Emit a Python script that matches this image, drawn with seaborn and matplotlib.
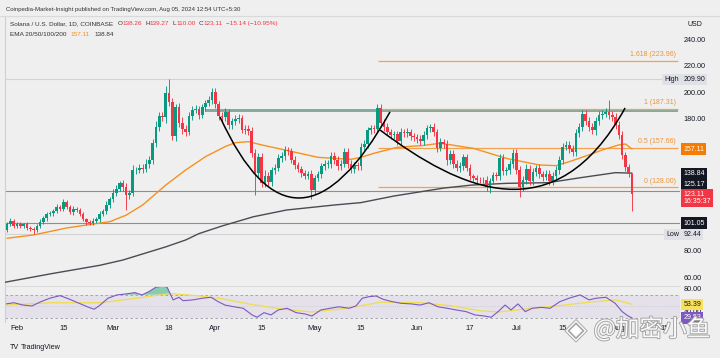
import numpy as np
import pandas as pd
import seaborn as sns
import matplotlib.pyplot as plt
import matplotlib.dates as mdates
import matplotlib.patheffects as pe
from matplotlib.path import Path
from matplotlib.patches import PathPatch
from matplotlib.lines import Line2D
from matplotlib.transforms import blended_transform_factory

# ---- data (SOL/USD daily, Coinbase) ----
first_day = "2024-01-29"
first_open = 96.0
closes = [
    100, 102.5, 99,                                              # Jan 29-31
    100, 98.5, 100, 97.5, 96.5, 96, 99, 102, 104.5, 108,         # Feb 1-10
    108.5, 110.5, 113, 112, 117, 113, 109.5, 112, 111, 108,      # Feb 11-20
    104, 101.5, 101, 102.5, 104, 108, 110, 115, 119,             # Feb 21-29
    124, 127, 131, 128, 122, 124, 141, 141.5, 143, 142,          # Mar 1-10
    146, 148.5, 161.5, 174, 182, 181, 199.5, 193, 167, 189,      # Mar 11-20
    177, 172, 170, 182, 187, 187.5, 183, 189, 192, 194,          # Mar 21-30
    200, 191, 182, 181, 185, 175, 178, 180, 180.5, 171.5,        # Mar 31-Apr 9
    172.5, 171, 154, 139, 151, 131, 137, 132, 141, 143,          # Apr 10-19
    150, 152, 156.5, 155.5, 149, 145, 142, 139, 137, 138,        # Apr 20-29
    126, 135, 138, 144, 146, 146, 152, 149, 144, 146,            # Apr 30-May 9
    155, 146, 142, 145, 144, 159, 161, 171.5, 173, 172,          # May 10-19
    188, 177, 174, 170, 168, 168.5, 163, 170, 169, 170,          # May 20-29
    167, 166, 165, 163, 168, 173, 173.5, 170, 158, 162.5,        # May 30-Jun 8
    161, 149, 153.5, 146, 143, 144, 151, 143, 136.5, 135,        # Jun 9-18
    134, 133.5, 134, 128.5, 133, 137.5, 136.5, 150, 140.5, 141,  # Jun 19-28
    146, 154, 141.5, 128, 133.5, 142, 133, 140, 142.5, 138,      # Jun 29-Jul 8
    136, 138, 133, 137, 141, 149, 159, 160, 157, 155,            # Jul 9-18
    169, 174, 184, 178, 174, 171.5, 178, 183, 184, 185.4,        # Jul 19-28
    183, 181.6, 175.3, 167.7, 152.6, 143.7, 138.26, 123.11,      # Jul 29-Aug 5
]
upper_wick = [
    1.5, 2.5, 1.5, 1.5, 1.5, 1.0, 1.5, 1.0, 1.5, 1.0,
    2.0, 1.5, 1.5, 2.0, 1.5, 2.5, 1.5, 2.0, 1.5, 1.5,
    2.0, 1.5, 1.5, 1.5, 1.0, 1.5, 2.0, 1.5, 2.0, 2.0,
    2.5, 2.0, 3.0, 2.5, 2.0, 2.5, 3.0, 2.0, 4.0, 2.0,
    3.0, 2.5, 3.5, 3.0, 3.0, 4.0, 3.0, 3.0, 5.0, 10.4,
    3.0, 2.5, 3.0, 4.0, 3.0, 3.0, 2.5, 3.0, 2.5, 2.5,
    2.5, 3.0, 3.0, 3.0, 2.5, 3.0, 3.0, 2.5, 2.5, 3.0,
    3.0, 2.5, 2.5, 2.5, 3.0, 3.0, 3.0, 3.0, 4.0, 3.0,
    2.5, 3.0, 3.0, 2.5, 3.0, 2.5, 2.5, 2.5, 2.5, 2.0,
    2.5, 2.5, 3.0, 2.5, 2.5, 2.5, 2.5, 3.0, 3.0, 2.5,
    2.5, 3.0, 3.0, 2.5, 2.5, 2.5, 2.5, 2.5, 3.0, 2.5,
    2.5, 2.5, 3.5, 3.0, 2.5, 2.5, 2.5, 2.5, 2.5, 3.0,
    2.5, 3.0, 2.5, 2.5, 2.5, 2.5, 3.0, 2.5, 2.5, 3.0,
    2.5, 3.0, 2.5, 3.0, 2.5, 2.5, 2.5, 3.0, 2.5, 2.0,
    2.5, 2.0, 2.5, 2.0, 2.0, 2.5, 2.5, 2.0, 2.5, 3.0,
    3.0, 2.5, 2.5, 3.0, 3.0, 2.5, 3.0, 3.5, 3.0, 2.5,
    2.5, 3.0, 2.5, 3.0, 3.0, 2.5, 3.0, 3.0, 2.5, 3.0,
    3.0, 3.0, 3.0, 3.0, 2.5, 3.0, 3.0, 2.5, 3.0, 3.0,
    2.5, 2.5, 8.6, 3.0, 2.5, 3.0, 3.0, 2.5, 2.0, 1.01,
]
lower_wick = [
    2.0, 1.5, 1.5, 1.5, 1.5, 1.5, 2.0, 1.5, 3.0, 1.5,
    1.5, 1.5, 2.0, 1.5, 2.0, 1.5, 2.0, 1.5, 1.5, 1.5,
    2.0, 1.5, 2.0, 1.5, 2.0, 1.5, 1.5, 1.5, 2.0, 2.0,
    2.0, 2.5, 2.0, 2.5, 2.0, 2.5, 11.0, 2.5, 2.5, 3.0,
    2.5, 3.0, 2.0, 3.0, 3.0, 3.0, 3.0, 3.0, 4.0, 3.0,
    3.0, 4.0, 3.0, 3.5, 3.0, 2.5, 3.0, 2.5, 3.0, 2.5,
    3.0, 2.5, 2.5, 3.0, 3.0, 2.5, 3.0, 3.0, 2.5, 3.0,
    3.0, 2.5, 3.0, 3.0, 3.0, 17.0, 3.0, 3.0, 3.0, 3.0,
    3.0, 3.0, 2.5, 2.5, 3.0, 3.0, 2.5, 3.0, 2.5, 3.0,
    2.5, 2.5, 7.0, 3.0, 2.5, 3.0, 2.5, 3.0, 3.0, 3.0,
    3.0, 3.0, 2.5, 3.0, 3.0, 3.0, 3.0, 3.0, 2.5, 3.0,
    3.0, 2.5, 3.0, 3.0, 3.0, 2.5, 3.0, 3.0, 2.5, 3.0,
    2.5, 3.0, 3.0, 2.5, 3.0, 3.0, 2.5, 3.0, 3.0, 3.0,
    3.0, 2.5, 3.0, 4.0, 3.0, 3.0, 2.5, 3.0, 3.0, 2.5,
    3.0, 2.5, 2.5, 2.5, 2.5, 3.0, 4.7, 2.5, 3.0, 3.0,
    3.0, 3.0, 3.0, 3.0, 3.0, 7.0, 3.0, 3.0, 3.0, 3.0,
    3.0, 3.0, 3.0, 2.5, 3.0, 3.0, 3.0, 3.0, 3.0, 2.5,
    3.0, 3.0, 3.0, 3.0, 3.0, 3.0, 3.0, 3.0, 3.5, 3.0,
    3.0, 3.0, 3.0, 3.0, 3.0, 3.0, 3.0, 3.0, 2.5, 13.11,
]

# EMA lines, sampled (days after Feb 1, price)
ema_fast_days = [-3, 5, 15, 25, 28, 33, 38, 45, 51, 57, 63, 66, 70, 74, 81, 91, 96, 101,
                 104, 108, 115, 123, 128, 138, 148, 158, 163, 167, 172, 177, 182, 184, 186]
ema_fast_vals = [89.5, 92, 97.3, 101, 102, 107, 114.7, 129.8, 141.2, 151.3, 159, 161.9, 162.7,
                 160.2, 156.4, 150.8, 150, 149.3, 150.8, 153.9, 158.4, 159.8, 161.5, 157.6,
                 150, 145, 144.5, 147.5, 151.8, 156.4, 160.2, 160.9, 157.11]
ema_slow_days = [-4, 10, 25, 32, 45, 51, 55, 62, 65, 71.5, 81.5, 96, 104, 114, 129, 137.5,
                 148, 160.6, 171, 181, 186]
ema_slow_vals = [56, 62.5, 69, 73, 83, 88.2, 93, 98.8, 101, 105.8, 110.9, 114.7, 116.5, 121.5,
                 127.5, 129.8, 131.1, 131.6, 135.6, 139.2, 138.84]

# horizontal levels
level_prices = [125.17, 101.05]
high_price, low_price = 209.90, 92.44
fib_levels = ["1.618", "1", "0.5", "0"]
fib_prices = [223.96, 187.31, 157.66, 128.00]
price_ticks = [60, 80, 160, 180, 200, 220, 240]

# RSI pane, sampled (days after Feb 1, value)
rsi_days = [-3.5, -0.9, 1.8, 4.5, 7.3, 10, 13, 15.7, 18.4, 21.2, 23.3, 24.8, 27.5, 30.2, 32.9,
            35.7, 37.8, 39.9, 42, 44.2, 45.4, 47.2, 49, 50.2, 53.2, 56, 58.7, 60.8, 62.9, 65.6,
            68.4, 71.1, 72.6, 74.7, 76.8, 79, 81.7, 84.4, 87.1, 89.2, 91.9, 94.7, 97.4, 100.4,
            102.5, 104.4, 106.5, 108.6, 110.7, 113.4, 116.1, 119.2, 121.9, 124.6, 127.3, 130.1,
            132.8, 135.8, 138.5, 141.3, 143.4, 145.5, 147.6, 149.4, 151.5, 153.7, 155.8, 158.5,
            161.2, 164.2, 166.9, 170.3, 173, 175.1, 178.1, 180.9, 183, 184.8, 186]
rsi_vals = [53.9, 56, 52, 50.4, 58, 64, 68.4, 62.6, 56, 49.2, 44.7, 50.4, 63.8, 69.6, 71.3,
            73.6, 69.6, 75.4, 83, 85, 83, 61, 65.5, 59.6, 61, 63.8, 65.5, 58, 52, 49,
            46.4, 34.8, 30.8, 38.8, 34.8, 43.5, 46.4, 38.8, 36.5, 33, 43.5, 46.4, 49, 46.4,
            50.4, 63.8, 66.6, 67.8, 62, 58, 55, 54, 52, 56, 49, 46.4,
            43.5, 40.6, 34.8, 33, 30.8, 40.6, 52, 43.5, 54, 40.6, 46.4, 48,
            46.4, 58, 63.8, 69.6, 61, 63.8, 65.5, 55, 40.6, 33, 29.53]
rsi_ma_days = [-3.6, 10, 25, 35, 46, 55, 62, 70, 80, 89, 98, 110, 122, 131, 140, 146, 155,
               164, 173, 181, 186]
rsi_ma_vals = [52, 56, 56, 63, 72, 68, 63, 54, 45, 40, 45, 57, 56, 51, 42, 40, 46, 51, 57, 61,
               53.39]
rsi_ticks = [40, 80]

tick_dates = ["2024-02-01", "2024-02-15", "2024-03-01", "2024-03-18", "2024-04-01",
              "2024-04-15", "2024-05-01", "2024-05-15", "2024-06-01", "2024-06-17",
              "2024-07-01", "2024-07-15", "2024-08-01", "2024-08-15"]
tick_labels = ["Feb", "15", "Mar", "18", "Apr", "15", "May", "15", "Jun", "17",
               "Jul", "15", "Aug", "15"]

# ---- styling ----
bg = "#efefef"
up, down = "#089981", "#f23645"
orange, fib_col = "#f5921f", "#f5a14f"
dark = "#131722"

sns.set_theme(style="white", rc={"axes.facecolor": bg, "figure.facecolor": bg,
                                 "savefig.facecolor": bg})
plt.rcParams["font.family"] = ["Liberation Sans", "DejaVu Sans"]

feb1 = pd.Timestamp("2024-02-01")
base = mdates.date2num(feb1)
def day(d):
    return base + d

dates = pd.date_range(first_day, periods=len(closes), freq="D")
opens = [first_open] + closes[:-1]
df = pd.DataFrame({"date": dates, "open": opens, "close": closes})
df["top"] = df[["open", "close"]].max(axis=1)
df["bot"] = df[["open", "close"]].min(axis=1)
df["high"] = df["top"] + upper_wick
df["low"] = df["bot"] - lower_wick
df["color"] = np.where(df["close"] >= df["open"], up, down)

fig = plt.figure(figsize=(7.2, 3.58), dpi=100)
H = 358.0
ax = fig.add_axes([5 / 720, 1 - 285 / H, 675 / 720, 268 / H])
ax_rsi = fig.add_axes([5 / 720, 1 - 322.3 / H, 675 / 720, 36.8 / H], sharex=ax)

# candles
xs = mdates.date2num(df["date"])
ax.vlines(xs, df["low"], df["high"], colors=df["color"], lw=0.65, zorder=4)
ax.bar(xs, np.maximum(df["top"] - df["bot"], 0.4), bottom=df["bot"], width=0.8,
       color=df["color"], lw=0, zorder=5)

# EMAs
fast = pd.DataFrame({"x": [day(d) for d in ema_fast_days], "y": ema_fast_vals})
slow = pd.DataFrame({"x": [day(d) for d in ema_slow_days], "y": ema_slow_vals})
sns.lineplot(data=fast, x="x", y="y", ax=ax, color=orange, lw=1.0, zorder=3)
sns.lineplot(data=slow, x="x", y="y", ax=ax, color="#4a4c55", lw=1.0, zorder=3)

# levels
for p in level_prices:
    ax.axhline(p, color="#8e8e8e", lw=0.8, zorder=1)
for p in (high_price, low_price):
    ax.axhline(p, color="#d3d3d3", lw=0.8, zorder=1)
ax.fill_between([day(56.9), day(199.9)], 185.4, 187.2, color="#84aba1", lw=0, zorder=2)
ax.hlines(fib_prices, day(109.2), day(199.9), color=fib_col, lw=0.9, zorder=2)
for lvl, p in zip(fib_levels, fib_prices):
    ax.text(day(199.3), p + 2.2, f"{lvl} ({p:.2f})", ha="right", va="bottom",
            fontsize=5, color="#ee9337", zorder=6)

# cup arcs
left_cup = [(day(61.4), 181.4), (day(84.1), 56.7), (day(112.8), 185.2)]
ax.add_patch(PathPatch(Path(left_cup, [Path.MOVETO, Path.CURVE3, Path.CURVE3]),
                       fc="none", ec="black", lw=1.1, zorder=6))
right_cup = [(day(109.8), 171.5), (day(134), 126.1), (day(162.7), 92.0), (day(183.9), 188.2)]
ax.add_patch(PathPatch(Path(right_cup, [Path.MOVETO, Path.CURVE4, Path.CURVE4, Path.CURVE4]),
                       fc="none", ec="black", lw=1.1, zorder=6))

ax.set_xlim(day(-3.63), day(200.5))
ax.set_ylim(54.1, 257.1)
ax.set_xlabel("")
ax.set_ylabel("")
ax.yaxis.tick_right()
ax.set_yticks(price_ticks)
ax.set_yticklabels([f"{v:.2f}" for v in price_ticks])
ax.tick_params(axis="y", length=0, pad=2.5, labelsize=5.2, colors=dark)
ax.tick_params(axis="x", length=0, labelbottom=False)
for s in ["top", "right", "bottom"]:
    ax.spines[s].set_visible(False)
ax.spines["left"].set_color("#cfcfcf")
ax.spines["left"].set_linewidth(0.8)

# RSI pane
rsi = pd.DataFrame({"x": [day(d) for d in rsi_days], "y": rsi_vals})
rsi_ma = pd.DataFrame({"x": [day(d) for d in rsi_ma_days], "y": rsi_ma_vals})
ax_rsi.axhspan(30, 70, color="#7e57c2", alpha=0.09, lw=0)
ax_rsi.axhline(70, color="#9a9ca5", lw=0.6, ls=(0, (3, 3)))
ax_rsi.axhline(30, color="#9a9ca5", lw=0.6, ls=(0, (3, 3)))
ax_rsi.axhline(50, color="#b9bbc2", lw=0.5, ls=(0, (1, 2)))
ax_rsi.fill_between(rsi["x"], rsi["y"], 70, where=rsi["y"] > 70, interpolate=True,
                    color="#35b07e", alpha=0.55, lw=0)
sns.lineplot(data=rsi_ma, x="x", y="y", ax=ax_rsi, color="#f0dc4e", lw=0.9)
sns.lineplot(data=rsi, x="x", y="y", ax=ax_rsi, color="#7e57c2", lw=0.8)
ax_rsi.set_ylim(22, 86)
ax_rsi.set_xlabel("")
ax_rsi.set_ylabel("")
ax_rsi.yaxis.tick_right()
ax_rsi.set_yticks(rsi_ticks)
ax_rsi.set_yticklabels([f"{v:.2f}" for v in rsi_ticks])
ax_rsi.tick_params(axis="y", length=0, pad=2.5, labelsize=5.2, colors=dark)
ax_rsi.set_xticks(mdates.date2num(pd.to_datetime(tick_dates)))
ax_rsi.set_xticklabels(tick_labels)
ax_rsi.tick_params(axis="x", length=0, pad=2, labelsize=5.5, colors=dark)
for s in ["top", "right", "bottom"]:
    ax_rsi.spines[s].set_visible(False)
ax_rsi.spines["left"].set_color("#cfcfcf")
ax_rsi.spines["left"].set_linewidth(0.8)

fig.add_artist(Line2D([0, 1], [1 - 16 / H] * 2, transform=fig.transFigure, color="#d9d9d9", lw=0.8))
fig.add_artist(Line2D([5 / 720, 680 / 720], [1 - 285.5 / H] * 2, transform=fig.transFigure,
                      color="#dadada", lw=0.7))

# price tags on the right scale
def tag(axis, y, s, fc, tc, x=683.5, ha="left"):
    tr = blended_transform_factory(fig.transFigure, axis.transData)
    axis.text(x / 720, y, s, transform=tr, ha=ha, va="center", fontsize=5, color=tc,
              zorder=20, clip_on=False, linespacing=1.1,
              bbox=dict(boxstyle="square,pad=0.3", fc=fc, ec="none"))

tag(ax, 157.11, "157.11", "#f57c00", "white")
tag(ax, 138.84, "138.84", dark, "white")
tag(ax, 129.85, "125.17", dark, "white")
tag(ax, 120.0, "123.11\n16:35:37", down, "white")
tag(ax, 101.05, "101.05", dark, "white")
tag(ax, high_price, "209.90", "#dfe1e6", dark)
tag(ax, high_price, "High", "#dfe1e6", dark, x=679, ha="right")
tag(ax, low_price, "92.44", "#dfe1e6", dark)
tag(ax, low_price, "Low", "#dfe1e6", dark, x=679, ha="right")
tag(ax_rsi, 53.39, "53.39", "#f7e15c", dark)
tag(ax_rsi, 29.53, "29.53", "#7e57c2", "white")
fig.text(688 / 720, 1 - 25 / H, "USD", fontsize=5, color=dark, va="center")

# header rows
def text_row(x, y, parts, size):
    prev = None
    for s, c, gap in parts:
        if prev is None:
            prev = ax.annotate(s, xy=(x, H - y), xycoords="figure pixels", fontsize=size,
                               color=c, va="bottom", ha="left", annotation_clip=False)
        else:
            prev = ax.annotate(s, xy=(1, 0), xycoords=prev, xytext=(gap, 0),
                               textcoords="offset points", fontsize=size, color=c,
                               va="bottom", ha="left", annotation_clip=False)

text_row(6, 11.5, [("Coinpedia-Market-Insight published on TradingView.com, Aug 05, 2024 12:54 UTC+5:30",
                    "#333333", 0)], 4.35)
text_row(10, 26, [("Solana / U.S. Dollar, 1D, COINBASE", "#333333", 0), ("O", "#333333", 3),
                  ("138.26", down, 0), ("H", "#333333", 2.5), ("139.27", down, 0),
                  ("L", "#333333", 2.5), ("110.00", down, 0), ("C", "#333333", 2.5),
                  ("123.11", down, 0), ("\u221215.14 (\u221210.95%)", down, 2.5)], 4.6)
text_row(10, 37, [("EMA 20/50/100/200", "#333333", 0), ("157.11", "#f5921f", 3),
                  ("138.84", "#333333", 3)], 4.6)
text_row(10, 293.5, [("RSI", "#333333", 0), ("29.53", "#7e57c2", 2.5), ("53.39", "#d6bf1e", 2.5),
                     ("\u2205", "#888888", 2.5), ("\u2205", "#888888", 2),
                     ("\u2205", "#888888", 2), ("\u2205", "#888888", 2)], 4.6)
text_row(10, 351, [("TV", "#131722", 0), ("TradingView", "#131722", 1.5)], 5.2)

# watermark
stroke = [pe.withStroke(linewidth=1.3, foreground="#9d9d9d")]
fig.text(576 / 720, 1 - 330 / H, "\u25c8", fontsize=20, color="white", ha="center", va="center",
         family=["DejaVu Sans"], path_effects=stroke, alpha=0.95)
fig.text(652 / 720, 1 - 329 / H, "@加密小鱼", fontsize=17, color="white", ha="center",
         va="center", family=["Noto Sans CJK SC", "DejaVu Sans"], path_effects=stroke, alpha=0.95)

fig.savefig("out.png", dpi=100)
